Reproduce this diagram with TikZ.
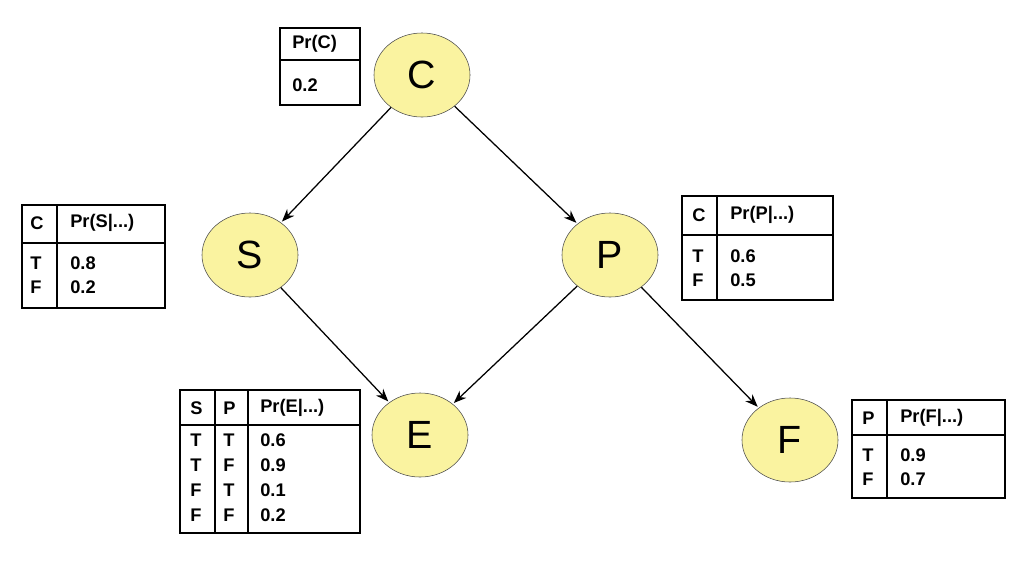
\documentclass[tikz,border=0pt]{standalone}
\usepackage{fontspec}
\setmainfont{Liberation Sans}
\usetikzlibrary{arrows.meta,shapes.geometric}
\definecolor{varfill}{RGB}{250,243,160}
\tikzset{
  var/.style={ellipse, draw=black!70, fill=varfill, minimum width=2.4cm, minimum height=2.1cm, inner sep=0pt, font=\fontsize{28}{30}\selectfont},
  tbl/.style={draw, line width=1.8pt},
  cell/.style={anchor=west, inner sep=0pt, font=\bfseries\fontsize{13}{14}\selectfont},
  link/.style={-{Stealth[length=9pt,width=7pt]}, line width=0.9pt, shorten >=1pt}
}
\begin{document}
\begin{tikzpicture}[x=0.025cm, y=-0.025cm]
\useasboundingbox (0,0) rectangle (1024,560);
% variables
\node[var] (node_C) at (422,75) {C};
\node[var] (node_S) at (250,255) {S};
\node[var] (node_P) at (610,255) {P};
\node[var] (node_E) at (420,435) {E};
\node[var] (node_F) at (790,440) {F};
\draw[link] (node_C) -- (node_S);
\draw[link] (node_C) -- (node_P);
\draw[link] (node_S) -- (node_E);
\draw[link] (node_P) -- (node_E);
\draw[link] (node_P) -- (node_F);
% table C
\draw[tbl] (280,28) rectangle (360,105) (280,60) -- (360,60);
\node[cell] (tab_C) at (292,44) {Pr(C)};
\node[cell] at (292,85) {0.2};
% table S
\draw[tbl] (22,205) rectangle (165,308) (22,243) -- (165,243) (57,205) -- (57,308);
\node[cell] (tab_S) at (30,223) {C};
\node[cell] at (70,223) {Pr(S|...)};
\node[cell] at (30,263) {T};
\node[cell] at (70,263) {0.8};
\node[cell] at (30,287) {F};
\node[cell] at (70,287) {0.2};
% table P
\draw[tbl] (682,196) rectangle (833,300) (682,235) -- (833,235) (717,196) -- (717,300);
\node[cell] (tab_P) at (692,215) {C};
\node[cell] at (730,215) {Pr(P|...)};
\node[cell] at (692,256) {T};
\node[cell] at (730,256) {0.6};
\node[cell] at (692,280) {F};
\node[cell] at (730,280) {0.5};
% table E
\draw[tbl] (180,390) rectangle (360,533) (180,425) -- (360,425) (215,390) -- (215,533) (248,390) -- (248,533);
\node[cell] (tab_E) at (190,408) {S};
\node[cell] at (223,408) {P};
\node[cell] at (260,408) {Pr(E|...)};
\foreach \s/\p/\v [count=\i] in {T/T/0.6, T/F/0.9, F/T/0.1, F/F/0.2} {
  \node[cell] at (190,{415+25*\i}) {\s};
  \node[cell] at (223,{415+25*\i}) {\p};
  \node[cell] at (260,{415+25*\i}) {\v};
}
% table F
\draw[tbl] (852,400) rectangle (1005,498) (852,435) -- (1005,435) (887,400) -- (887,498);
\node[cell] (tab_F) at (862,418) {P};
\node[cell] at (900,418) {Pr(F|...)};
\node[cell] at (862,455) {T};
\node[cell] at (900,455) {0.9};
\node[cell] at (862,479) {F};
\node[cell] at (900,479) {0.7};
\end{tikzpicture}
\end{document}
